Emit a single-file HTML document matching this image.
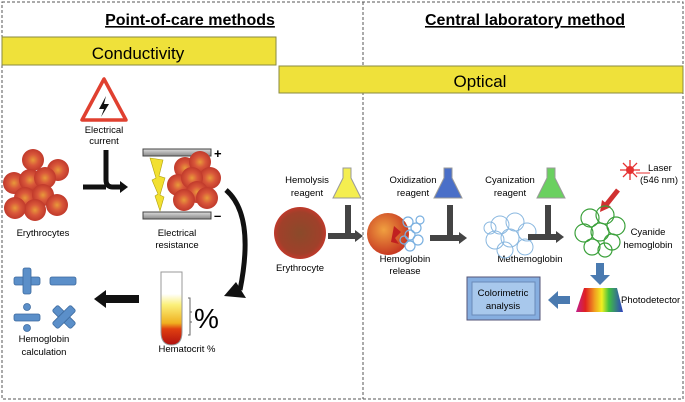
<!DOCTYPE html>
<html><head><meta charset="utf-8"><style>
html,body{margin:0;padding:0;background:#fff}
svg{display:block;font-family:"Liberation Sans",sans-serif}
</style></head><body>
<svg width="685" height="402" viewBox="0 0 685 402" xmlns="http://www.w3.org/2000/svg">
<defs>
<radialGradient id="rbc" cx="50%" cy="50%" r="50%"><stop offset="0" stop-color="#e89a3a"/><stop offset="0.5" stop-color="#d9573a"/><stop offset="1" stop-color="#c0392b"/></radialGradient>
<radialGradient id="ery" cx="50%" cy="50%" r="50%"><stop offset="0" stop-color="#8a4a2a"/><stop offset="0.8" stop-color="#a0402a"/><stop offset="1" stop-color="#c0392b"/></radialGradient>
<radialGradient id="rel" cx="40%" cy="40%" r="60%"><stop offset="0" stop-color="#f0a040"/><stop offset="1" stop-color="#c83a22"/></radialGradient>
<linearGradient id="tube" x1="0" y1="0" x2="0" y2="1"><stop offset="0" stop-color="#fff"/><stop offset="0.3" stop-color="#fff"/><stop offset="0.45" stop-color="#fbf07a"/><stop offset="0.7" stop-color="#f0b020"/><stop offset="0.78" stop-color="#e04010"/><stop offset="1" stop-color="#b01010"/></linearGradient>
<linearGradient id="spec" x1="0" y1="0" x2="1" y2="0"><stop offset="0" stop-color="#c02090"/><stop offset="0.2" stop-color="#e02020"/><stop offset="0.4" stop-color="#f0a020"/><stop offset="0.55" stop-color="#f0f020"/><stop offset="0.7" stop-color="#40c040"/><stop offset="1" stop-color="#3040c0"/></linearGradient>
<linearGradient id="plate" x1="0" y1="0" x2="0" y2="1"><stop offset="0" stop-color="#ddd"/><stop offset="1" stop-color="#888"/></linearGradient>
<g id="cell"><circle r="11" fill="url(#rbc)"/></g>
</defs>
<rect x="2" y="2" width="681" height="397" fill="none" stroke="#555" stroke-dasharray="3,2"/>
<line x1="363" y1="2" x2="363" y2="399" stroke="#555" stroke-dasharray="3,2"/>
<text x="190" y="25" font-size="16" font-weight="bold" text-anchor="middle" text-decoration="underline">Point-of-care methods</text>
<text x="525" y="25" font-size="16" font-weight="bold" text-anchor="middle" text-decoration="underline">Central laboratory method</text>
<rect x="2" y="37" width="274" height="28" fill="#efe13a" stroke="#8a8a40"/>
<text x="138" y="59" font-size="17" text-anchor="middle">Conductivity</text>
<rect x="279" y="66" width="404" height="27" fill="#efe13a" stroke="#8a8a40"/>
<text x="480" y="87" font-size="17" text-anchor="middle">Optical</text>
<polygon points="104,79 82,120 126,120" fill="#fff" stroke="#e04030" stroke-width="3.5" stroke-linejoin="round"/>
<polygon points="106,96 99,109 104,109 101,117 109,104 104,104" fill="#111"/>
<g font-size="9.5" text-anchor="middle">
<text x="104" y="133">Electrical</text>
<text x="104" y="144">current</text>
</g>
<g>
<use href="#cell" x="33" y="160"/><use href="#cell" x="58" y="170"/><use href="#cell" x="14" y="183"/><use href="#cell" x="30" y="180"/><use href="#cell" x="45" y="178"/><use href="#cell" x="25" y="198"/><use href="#cell" x="43" y="195"/><use href="#cell" x="57" y="205"/><use href="#cell" x="35" y="210"/><use href="#cell" x="15" y="208"/>
</g>
<text x="43" y="236" font-size="9.5" text-anchor="middle">Erythrocytes</text>
<path d="M106,150 V180 Q106,187 113,187 H122" fill="none" stroke="#111" stroke-width="5"/>
<line x1="83" y1="187" x2="106" y2="187" stroke="#111" stroke-width="5"/>
<polygon points="120,181 128,187 120,193" fill="#111"/>
<rect x="143" y="149" width="68" height="7" fill="url(#plate)" stroke="#444"/>
<text x="214" y="158" font-size="13" font-weight="bold">+</text>
<rect x="143" y="212" width="68" height="7" fill="url(#plate)" stroke="#444"/>
<text x="214" y="220" font-size="13" font-weight="bold">–</text>
<polygon points="150,158 163,160 159,176 165,178 160,195 164,197 160,211 155,196 158,194 152,180 156,178" fill="#f2e030" stroke="#b0a010" stroke-width="0.6"/>
<g>
<use href="#cell" x="185" y="168"/><use href="#cell" x="200" y="162"/><use href="#cell" x="210" y="178"/><use href="#cell" x="178" y="185"/><use href="#cell" x="192" y="178"/><use href="#cell" x="197" y="192"/><use href="#cell" x="184" y="200"/><use href="#cell" x="207" y="198"/>
</g>
<g font-size="9.5" text-anchor="middle">
<text x="177" y="236">Electrical</text>
<text x="177" y="248">resistance</text>
</g>
<path d="M226,190 Q255,215 240,290" fill="none" stroke="#111" stroke-width="5"/>
<polygon points="224,296 236,282 246,298" fill="#111"/>
<path d="M161,272 H182 V332 Q182,345 171.5,345 Q161,345 161,332 Z" fill="url(#tube)" stroke="#999"/>
<path d="M188,298 h2 v37 h-2 M190,312 h2 M190,322 h2" fill="none" stroke="#666"/>
<text x="194" y="328" font-size="28">%</text>
<text x="187" y="352" font-size="9.5" text-anchor="middle">Hematocrit %</text>
<rect x="104" y="295" width="35" height="8" fill="#111"/>
<polygon points="106,290 94,299 106,308" fill="#111"/>
<g fill="#5b8fc9" stroke="#3d6a9e" stroke-width="0.8">
<rect x="14" y="277" width="26" height="8" rx="2"/><rect x="23" y="268" width="8" height="26" rx="2"/>
<rect x="50" y="277" width="26" height="8" rx="2"/>
<rect x="14" y="314" width="26" height="7" rx="2"/><circle cx="27" cy="307" r="3.5"/><circle cx="27" cy="328" r="3.5"/>
<g transform="translate(64,317) rotate(45)"><rect x="-13" y="-4" width="26" height="8" rx="2"/><rect x="-4" y="-13" width="8" height="26" rx="2"/></g>
</g>
<g font-size="9.5" text-anchor="middle">
<text x="44" y="342">Hemoglobin</text>
<text x="44" y="355">calculation</text>
<text x="307" y="183">Hemolysis</text>
<text x="307" y="196">reagent</text>
<text x="300" y="271">Erythrocyte</text>
<text x="405" y="262">Hemoglobin</text>
<text x="405" y="274">release</text>
<text x="413" y="183">Oxidization</text>
<text x="413" y="196">reagent</text>
<text x="530" y="262">Methemoglobin</text>
<text x="510" y="183">Cyanization</text>
<text x="510" y="196">reagent</text>
<text x="648" y="235">Cyanide</text>
<text x="648" y="248">hemoglobin</text>
<text x="503" y="296">Colorimetric</text>
<text x="503" y="309">analysis</text>
</g>
<path d="M343,168 h8 v10 l10,20 h-28 l10,-20 z" fill="#f4ee50" stroke="#999"/>
<circle cx="300" cy="233" r="26" fill="url(#ery)"/>
<path d="M348,205 V236" stroke="#444" stroke-width="6"/>
<line x1="328" y1="236" x2="356" y2="236" stroke="#444" stroke-width="6"/>
<polygon points="355,230 363,236 355,242" fill="#444"/>
<circle cx="388" cy="234" r="21" fill="url(#rel)"/>
<g fill="none" stroke="#7ab0e0" stroke-width="1.2">
<circle cx="408" cy="222" r="5"/><circle cx="416" cy="228" r="5"/><circle cx="410" cy="235" r="5"/><circle cx="418" cy="240" r="5"/><circle cx="410" cy="246" r="5"/><circle cx="420" cy="220" r="4"/><circle cx="404" cy="240" r="4"/>
</g>
<polygon points="394,226 401,232 395,238 399,244 391,242" fill="#c02020"/>
<path d="M444,168 h8 v10 l10,20 h-28 l10,-20 z" fill="#4a6fc8" stroke="#999"/>
<path d="M450,205 V238" stroke="#444" stroke-width="6"/>
<line x1="430" y1="238" x2="460" y2="238" stroke="#444" stroke-width="6"/>
<polygon points="459,232 467,238 459,244" fill="#444"/>
<g fill="none" stroke="#8ab8e0" stroke-width="1">
<circle cx="500" cy="225" r="9"/><circle cx="515" cy="222" r="9"/><circle cx="527" cy="232" r="9"/><circle cx="495" cy="240" r="9"/><circle cx="510" cy="238" r="9"/><circle cx="525" cy="247" r="8"/><circle cx="505" cy="250" r="8"/><circle cx="490" cy="228" r="6"/>
</g>
<path d="M547,168 h8 v10 l10,20 h-28 l10,-20 z" fill="#6ad060" stroke="#999"/>
<path d="M548,205 V237" stroke="#444" stroke-width="6"/>
<line x1="528" y1="237" x2="557" y2="237" stroke="#444" stroke-width="6"/>
<polygon points="556,231 564,237 556,243" fill="#444"/>
<g stroke="#e53030" stroke-width="1.3">
<line x1="620" y1="170" x2="640" y2="170"/><line x1="630" y1="160" x2="630" y2="180"/><line x1="623" y1="163" x2="637" y2="177"/><line x1="637" y1="163" x2="623" y2="177"/>
</g>
<circle cx="630" cy="170" r="4" fill="#e53030"/>
<line x1="636" y1="173" x2="650" y2="173" stroke="#e53030"/>
<text x="648" y="171" font-size="9.5">Laser</text>
<text x="640" y="183" font-size="9.5">(546 nm)</text>
<path d="M618,190 L606,205" stroke="#d03030" stroke-width="5"/>
<polygon points="600,212 602,200 611,207" fill="#d03030"/>
<g fill="none" stroke="#3aa03a" stroke-width="1.2">
<circle cx="590" cy="218" r="9"/><circle cx="605" cy="215" r="9"/><circle cx="616" cy="226" r="9"/><circle cx="584" cy="233" r="9"/><circle cx="600" cy="232" r="9"/><circle cx="612" cy="242" r="8"/><circle cx="592" cy="247" r="8"/><circle cx="605" cy="250" r="7"/>
</g>
<rect x="596" y="263" width="8" height="13" fill="#4a7ab0"/>
<polygon points="590,275 610,275 600,285" fill="#4a7ab0"/>
<polygon points="584,288 617,288 623,312 576,312" fill="url(#spec)"/>
<text x="621" y="303" font-size="9.5">Photodetector</text>
<rect x="557" y="296" width="13" height="8" fill="#4a7ab0"/>
<polygon points="558,291 558,309 548,300" fill="#4a7ab0"/>
<rect x="467" y="277" width="73" height="43" fill="#86aee0" stroke="#557"/>
<rect x="472" y="282" width="63" height="33" fill="#a8c8ec" stroke="#6a8ab8"/>
<text x="503" y="296" font-size="9.5" text-anchor="middle">Colorimetric</text>
<text x="503" y="309" font-size="9.5" text-anchor="middle">analysis</text>
</svg>
</body></html>
